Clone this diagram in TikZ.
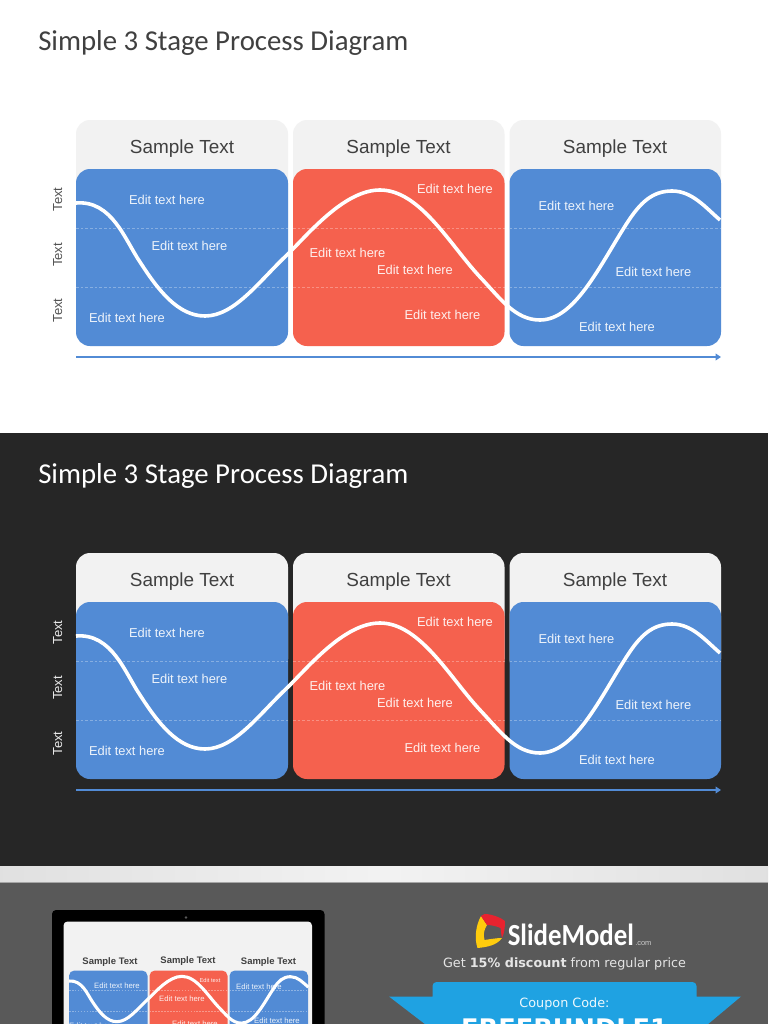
\documentclass[tikz,border=0pt]{standalone}
\usepackage{fontspec}
\usepackage{graphicx}
\setmainfont{Liberation Sans}
\newfontfamily\titlefont{Carlito}
\newfontfamily\dejafont{DejaVu Sans}
\usetikzlibrary{arrows.meta}
\definecolor{panelblue}{HTML}{528BD5}
\definecolor{panelred}{HTML}{F5614E}
\definecolor{headgray}{HTML}{F2F2F2}
\definecolor{ink}{HTML}{404040}
\definecolor{darkbg}{HTML}{262626}
\definecolor{promobg}{HTML}{595959}
\definecolor{ribbon}{HTML}{1FA2E2}
\definecolor{logored}{HTML}{E8232F}
\definecolor{logoyellow}{HTML}{FFCC0D}
\tikzset{
  x=0.75pt,y=-0.75pt,
  head/.style={fill=headgray,rounded corners=10.5pt},
  panel/.style={rounded corners=10.5pt},
  gridline/.style={white,opacity=.3,line width=.4pt,dash pattern=on 2pt off 1.5pt},
  minigrid/.style={white,opacity=.35,line width=.3pt,dash pattern=on 1.2pt off 1pt},
  wave/.style={white,line width=2.7pt},
  edit/.style={text=white,font=\fontsize{9.65}{12}\selectfont,inner sep=0pt,anchor=center,opacity=.9},
  samp/.style={text=ink,font=\fontsize{14.2}{16}\selectfont,inner sep=0pt},
  sidelab/.style={font=\fontsize{9.8}{11}\selectfont,inner sep=0pt,rotate=90,opacity=.9},
  ttl/.style={font=\titlefont\fontsize{21.6}{24}\selectfont,inner sep=0pt,anchor=base west},
  minisamp/.style={text=ink,font=\bfseries\fontsize{7.1}{8}\selectfont,inner sep=0pt},
  miniedit/.style={text=white,font=\fontsize{5.8}{7}\selectfont,inner sep=0pt,opacity=.9},
}
\newcommand{\wavepath}{(76,203) .. controls (112,200) and (125,240) .. (140,262)
  .. controls (158,290) and (178,316) .. (205,316)
  .. controls (235,316) and (260,280) .. (288,254)
  .. controls (310,232) and (345,190) .. (380,190)
  .. controls (420,190) and (450,245) .. (480,277)
  .. controls (500,298) and (515,320) .. (540,320)
  .. controls (575,320) and (600,265) .. (627,223)
  .. controls (640,203) and (652,191) .. (672,191)
  .. controls (692,191) and (705,207) .. (720,220)}
\newcommand{\slideblock}[3]{%
  \begin{scope}[shift={(0,#1)}]
    \node[ttl,text=#2] (#3title) at (38,50.8) {Simple 3 Stage Process Diagram};
    \fill[head] (76,120) rectangle (288,240);
    \fill[head] (293,120) rectangle (504.5,240);
    \fill[head] (509.5,120) rectangle (721,240);
    \fill[panel,panelblue] (76,169) rectangle (288,346);
    \fill[panel,panelred] (293,169) rectangle (504.5,346);
    \fill[panel,panelblue] (509.5,169) rectangle (721,346);
    \foreach \yy in {227.8,286.8} {
      \draw[gridline] (76,\yy) -- (288,\yy);
      \draw[gridline] (293,\yy) -- (504.5,\yy);
      \draw[gridline] (509.5,\yy) -- (721,\yy);
    }
    \draw[wave] \wavepath;
    \node[samp] (#3sa) at (182,148.5) {Sample Text};
    \node[samp] (#3sb) at (398.5,148.5) {Sample Text};
    \node[samp] (#3sc) at (615,148.5) {Sample Text};
    \node[edit] (#3ea) at (167,200) {Edit text here};
    \node[edit] (#3eb) at (189.5,245.5) {Edit text here};
    \node[edit] (#3ec) at (127,317.5) {Edit text here};
    \node[edit] (#3ed) at (455,189) {Edit text here};
    \node[edit] (#3ee) at (347.5,253) {Edit text here};
    \node[edit] (#3ef) at (415,270) {Edit text here};
    \node[edit] (#3eg) at (442.5,314.5) {Edit text here};
    \node[edit] (#3eh) at (576.5,206) {Edit text here};
    \node[edit] (#3ei) at (653.5,271.5) {Edit text here};
    \node[edit] (#3ej) at (617,326.5) {Edit text here};
    \node[sidelab,text=#2] (#3la) at (57.8,199.5) {Text};
    \node[sidelab,text=#2] (#3lb) at (57.8,255) {Text};
    \node[sidelab,text=#2] (#3lc) at (57.8,310.5) {Text};
    \coordinate (#3aa) at (76,357);
    \coordinate (#3ab) at (721,357);
    \draw[panelblue,line width=1.1pt,-{Triangle[length=4pt,width=5pt]}] (#3aa) -- (#3ab);
  \end{scope}}
\begin{document}
\begin{tikzpicture}
\useasboundingbox (0,0) rectangle (768,1024);
\clip (0,0) rectangle (768,1024);
\fill[white] (0,0) rectangle (768,433);
\fill[darkbg] (0,433) rectangle (768,866);
\slideblock{0}{ink}{p}
\slideblock{433}{white}{q}
% promo band
\shade[left color=black!12,right color=black!12,middle color=black!5] (0,866) rectangle (768,882);
\fill[promobg] (0,882.5) rectangle (768,1024);
\draw[black!35,line width=.5pt] (0,882.5) -- (768,882.5);
% tablet
\fill[black,rounded corners=3pt] (52,910) rectangle (324.5,1040);
\fill[headgray,rounded corners=3pt] (63.5,921.5) rectangle (312,1040);
\fill[black!65] (186,917.5) circle (1.4);
\fill[rounded corners=4pt,panelblue] (69,970.5) rectangle (147.5,1040);
\fill[rounded corners=4pt,panelred] (149.5,970.5) rectangle (227.5,1040);
\fill[rounded corners=4pt,panelblue] (229.5,970.5) rectangle (308,1040);
\foreach \yy in {990.5,1011} {
  \draw[minigrid] (69,\yy) -- (147.5,\yy);
  \draw[minigrid] (149.5,\yy) -- (227.5,\yy);
  \draw[minigrid] (229.5,\yy) -- (308,\yy);
}
\begin{scope}[shift={(69,981)},x=0.2787pt,y=-0.27pt,shift={(-76,-203)}]
\draw[white,line width=2.3pt] \wavepath;
\end{scope}
\node[minisamp] (ms1) at (110,962.5) {Sample Text};
\node[minisamp] (ms2) at (188,961) {Sample Text};
\node[minisamp] (ms3) at (268.5,962.5) {Sample Text};
\node[miniedit] (me1) at (117,985.5) {Edit text here};
\node[miniedit,font=\fontsize{4.3}{5}\selectfont] (me2) at (210,980) {Edit text};
\node[miniedit] (me3) at (182,999) {Edit text here};
\node[miniedit] (me4) at (259,987) {Edit text here};
\node[miniedit] (me5) at (277,1021) {Edit text here};
\node[miniedit] (me6) at (195,1024) {Edit text here};
\node[miniedit] (me7) at (92,1026) {Edit text here};
% logo
\fill[logoyellow] (481,916) .. controls (476,925) and (474,938) .. (477.5,948)
  .. controls (488,947) and (497,945) .. (502,938)
  .. controls (497,938) and (491,939) .. (484.5,940)
  .. controls (483,934) and (484,930) .. (487,925) -- cycle;
\fill[logored] (481,916) .. controls (483,914) and (485,914) .. (487,914)
  .. controls (493,915) and (500,917) .. (505,921)
  .. controls (505,928) and (504,934) .. (502,938)
  .. controls (501,934) and (501,930) .. (500.5,928)
  .. controls (496,926) and (491,925) .. (487,925) -- cycle;
\node[text=white,font=\titlefont\bfseries\fontsize{23}{26}\selectfont,inner sep=0pt,anchor=base west] (logo) at (507.5,945) {\scalebox{0.875}[1]{SlideModel}};
\node[text=white!80!black,font=\fontsize{5.6}{7}\selectfont,inner sep=0pt,anchor=base west] (logoc) at (635,945) {.com};
\node[text=white!90!black,font=\dejafont\fontsize{9.58}{12}\selectfont,inner sep=0pt] (disc) at (564.5,963.5) {Get \textbf{15\% discount} from regular price};
% ribbon
\fill[ribbon] (389,996.5) -- (432.5,996.5) -- (432.5,986) [rounded corners=3pt] -- (432.5,982) -- (696.5,982) [sharp corners] -- (696.5,996.5) -- (741,996.5) -- (701,1030) -- (432.7,1030) -- cycle;
\node[text=white!92!ribbon,font=\dejafont\fontsize{9.6}{12}\selectfont,inner sep=0pt] (coup) at (564.5,1004) {Coupon Code:};
\node[text=white,font=\dejafont\bfseries\fontsize{19.2}{22}\selectfont,inner sep=0pt,anchor=base] (code) at (564.5,1037) {FREEBUNDLE1};
\end{tikzpicture}
\end{document}
